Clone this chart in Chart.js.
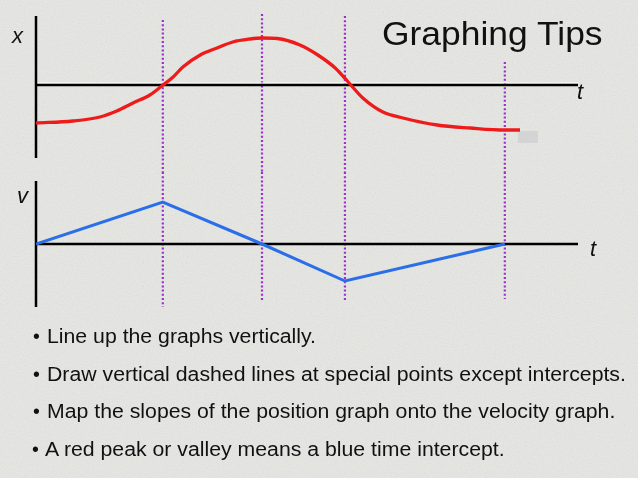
<!DOCTYPE html>
<html>
<head>
<meta charset="utf-8">
<script src="https://cdn.jsdelivr.net/npm/chart.js@4.4.1/dist/chart.umd.min.js"></script>
<style>
  html, body { margin: 0; padding: 0; }
  body { width: 638px; height: 478px; background: #e7e7e4; position: relative; overflow: hidden;
         font-family: "Liberation Sans", Arial, sans-serif; color: #111; }
  .noise { position: absolute; left: 0; top: 0; width: 638px; height: 478px; opacity: 0.18; }
  .box { position: absolute; left: 0; width: 638px; }
  .txt { position: absolute; white-space: nowrap; line-height: 1; transform-origin: 0 0; }
  .lbl { font-style: italic; font-size: 22px; line-height: 22px; }
  .title { font-size: 32.5px; line-height: 32.5px; transform: scaleX(1.09); }
  .bul { font-size: 19.5px; line-height: 19.5px; }
  .wide { transform: scaleX(1.09); }
</style>
</head>
<body>
<svg class="noise" xmlns="http://www.w3.org/2000/svg">
  <filter id="grain"><feTurbulence type="fractalNoise" baseFrequency="0.9" numOctaves="2" seed="3"/>
    <feColorMatrix type="saturate" values="0"/></filter>
  <rect width="100%" height="100%" filter="url(#grain)"/>
</svg>
<div class="box" style="top:0;height:172px"><canvas id="posChart"></canvas></div>
<div class="box" style="top:172px;height:148px"><canvas id="velChart"></canvas></div>

<div class="txt title" style="left:382px;top:18.2px">Graphing Tips</div>
<div class="txt lbl" style="left:12px;top:24.5px">x</div>
<div class="txt lbl" style="left:577px;top:80.5px">t</div>
<div class="txt lbl" style="left:17px;top:184.5px">v</div>
<div class="txt lbl" style="left:590px;top:238px">t</div>
<div id="tips"></div>

<script>
// time axis runs 0..10
const tMax = 10;

// position x(t), red curve
const posT = [0, 0.68, 1.18, 1.49, 1.79, 2.10, 2.32, 2.53, 2.71, 3.03, 3.34, 3.63, 3.95, 4.17,
              4.45, 4.87, 5.20, 5.52, 5.76, 6.03, 6.40, 6.77, 7.40, 8.01, 8.65, 8.93];
const posX = [-3.8, -3.6, -3.2, -2.6, -1.8, -1.0, -0.1, 0.8, 1.8, 3.0, 3.7, 4.3, 4.6, 4.7,
              4.65, 4.0, 3.0, 1.7, 0.3, -1.3, -2.7, -3.3, -4.0, -4.3, -4.5, -4.5];

// velocity v(t), blue lines
const velT = [0, 2.34, 4.17, 5.70, 8.65];
const velV = [0, 4.2, 0, -3.7, 0];

// dotted guide lines: time, top end (x units), bottom end (v units)
const guideT = [2.34, 4.17, 5.70, 8.65];
const guideTop = [6.5, 7.1, 6.9, 2.3];
const guideBottom = [-6.3, -5.8, -5.8, -5.5];

const tips = [
  'Line up the graphs vertically.',
  'Draw vertical dashed lines at special points except intercepts.',
  'Map the slopes of the position graph onto the velocity graph.',
  'A red peak or valley means a blue time intercept.'
];

const tipsEl = document.getElementById('tips');
tips.forEach((s, i) => {
  const top = 326.8 + i * 37.8;
  tipsEl.innerHTML += '<div class="txt bul" style="left:' + (i == 3 ? 32 : 33) + 'px;top:' + top + 'px">\u2022</div>' +
    '<div class="txt bul wide" style="left:' + (i == 3 ? 45 : 46.5) + 'px;top:' + top + 'px">' + s + '</div>';
});

const guideColor = '#9a2fd0';

function vline(c, x, y1, y2) {
  c.beginPath(); c.moveTo(x, y1); c.lineTo(x, y2); c.stroke();
}
function hline(c, x1, x2, y) {
  c.beginPath(); c.moveTo(x1, y); c.lineTo(x2, y); c.stroke();
}

// axes + guides drawn with the chart's own scales
function framePlugin(axisTop, axisBottom, which) {
  return {
    id: 'frame_' + which,
    beforeDatasetsDraw(chart) {
      const c = chart.ctx, xs = chart.scales.x, ys = chart.scales.y;
      const x0 = xs.getPixelForValue(0), x1 = xs.getPixelForValue(tMax);
      const y0 = ys.getPixelForValue(0);
      c.save();
      // guides
      c.strokeStyle = guideColor;
      c.lineWidth = 2.2;
      c.setLineDash([2, 2.2]);
      guideT.forEach((t, i) => {
        const gx = xs.getPixelForValue(t);
        if (which == 'pos') vline(c, gx, ys.getPixelForValue(guideTop[i]), chart.chartArea.bottom);
        else vline(c, gx, chart.chartArea.top, ys.getPixelForValue(guideBottom[i]));
      });
      c.setLineDash([]);
      // axes
      if (which == 'pos') {
        c.strokeStyle = '#ffffff';
        c.lineWidth = 1;
        hline(c, x0, x1, y0 - 2);
      }
      c.strokeStyle = '#000';
      c.lineWidth = 2.5;
      hline(c, x0, x1, y0);
      vline(c, x0, ys.getPixelForValue(axisTop), ys.getPixelForValue(axisBottom));
      if (which == 'pos') {
        // little grey patch next to the end of the red curve
        c.fillStyle = '#d4d4d4';
        const px = xs.getPixelForValue(8.89), py = ys.getPixelForValue(-4.6);
        c.fillRect(px, py, xs.getPixelForValue(9.26) - px, ys.getPixelForValue(-5.8) - py);
      }
      c.restore();
    }
  };
}

function baseOptions(yMin, yMax, padBottom) {
  return {
    responsive: true,
    maintainAspectRatio: false,
    animation: false,
    layout: { padding: { left: 36, right: 60, top: padBottom == 0 ? 14 : 0, bottom: padBottom } },
    plugins: { legend: { display: false }, tooltip: { enabled: false } },
    scales: {
      x: { type: 'linear', min: 0, max: tMax, display: false },
      y: { min: yMin, max: yMax, display: false }
    }
  };
}

new Chart(document.getElementById('posChart'), {
  type: 'line',
  data: {
    datasets: [{
      data: posT.map((t, i) => ({ x: t, y: posX[i] })),
      borderColor: '#ee1b1b',
      borderWidth: 3.3,
      pointRadius: 0,
      cubicInterpolationMode: 'monotone',
      fill: false
    }]
  },
  options: baseOptions(-8.7, 7.1, 0),
  plugins: [framePlugin(6.9, -7.3, 'pos')]
});

new Chart(document.getElementById('velChart'), {
  type: 'line',
  data: {
    datasets: [{
      data: velT.map((t, i) => ({ x: t, y: velV[i] })),
      borderColor: '#2a6ee8',
      borderWidth: 3,
      pointRadius: 0,
      tension: 0,
      fill: false
    }]
  },
  options: baseOptions(-6.3, 7.2, 13),
  plugins: [framePlugin(6.3, -6.3, 'vel')]
});
</script>
</body>
</html>
